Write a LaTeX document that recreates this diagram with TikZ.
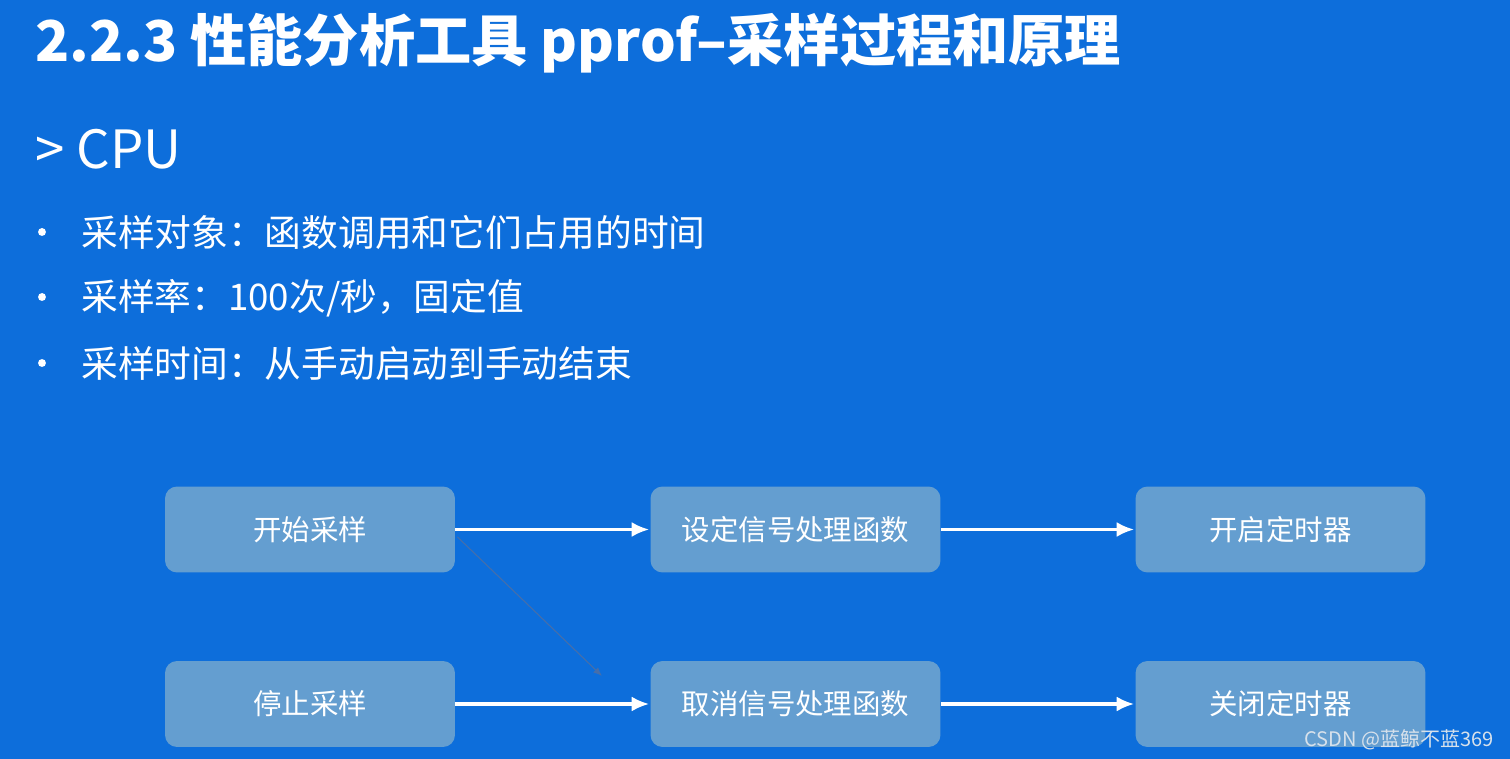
\documentclass[tikz,border=0pt]{standalone}
\usepackage{fontspec}
\setmainfont{Noto Sans CJK SC}
\usetikzlibrary{arrows.meta}
\definecolor{bg}{RGB}{13,110,219}
\definecolor{boxfill}{RGB}{100,158,208}
\definecolor{diag}{RGB}{70,110,170}
\definecolor{wm}{RGB}{215,225,235}
\begin{document}
\begin{tikzpicture}[x=0.02cm,y=-0.02cm,
  stepbox/.style={draw=none,fill=boxfill,rounded corners=0.24cm,minimum width=5.8cm,minimum height=1.72cm,text=white,font=\fontsize{16.2}{16.2}\selectfont,inner sep=0pt},
  flow/.style={draw=white,line width=1.9pt,-{Latex[length=10pt,width=8.5pt]},shorten >=0.5pt},
  bullettext/.style={anchor=west,text=white,font=\fontsize{20.9}{20.9}\selectfont,inner sep=0pt},
  bulletdot/.style={circle,fill=white,inner sep=0pt,minimum size=4.5pt}]
\fill[bg] (0,0) rectangle (1510,759);
\useasboundingbox (0,0) rectangle (1510,759);
\node[anchor=base west,inner sep=0pt,text=white,font=\fontsize{32}{32}\selectfont\bfseries] (title) at (35,62) {2.2.3 性能分析工具 pprof–采样过程和原理};
\node[anchor=west,inner sep=0pt,text=white,font=\fontsize{30}{30}\selectfont] (cpu) at (35,149) {> CPU};
\node[bulletdot] (d1) at (42,232) {};
\node[bullettext] (b1) at (81,233) {采样对象：函数调用和它们占用的时间};
\node[bulletdot] (d2) at (42,297) {};
\node[bullettext] (b2) at (81,298) {采样率：100次/秒，固定值};
\node[bulletdot] (d3) at (42,363) {};
\node[bullettext] (b3) at (81,364) {采样时间：从手动启动到手动结束};
\node[stepbox] (s1) at (310,529.5) {开始采样};
\node[stepbox] (s2) at (795.5,529.5) {设定信号处理函数};
\node[stepbox] (s3) at (1280.5,529.5) {开启定时器};
\node[stepbox] (t1) at (310,704) {停止采样};
\node[stepbox] (t2) at (795.5,704) {取消信号处理函数};
\node[stepbox] (t3) at (1280.5,704) {关闭定时器};
\draw[flow] (s1) -- (s2);
\draw[flow] (s2) -- (s3);
\draw[flow] (t1) -- (t2);
\draw[flow] (t2) -- (t3);
\coordinate (dend) at (602,676);
\draw[diag,line width=0.6pt,-{Latex[length=5pt,width=4pt]}] (s1.south east) ++(2,-36) coordinate (dstart) (dstart) -- (dend);
\node[anchor=east,inner sep=0pt,text=wm,font=\fontsize{11.4}{11.4}\selectfont] (wmark) at (1494,740) {CSDN @蓝鲸不蓝369};
\end{tikzpicture}
\end{document}
